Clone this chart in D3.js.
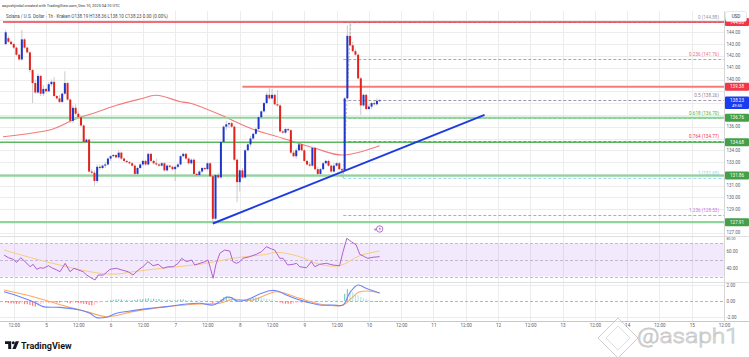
<!DOCTYPE html>
<html><head><meta charset="utf-8">
<script src="https://cdn.jsdelivr.net/npm/d3@7"></script>
<style>html,body{margin:0;padding:0;background:#fff;} svg{display:block;font-family:Roboto,"Liberation Sans",Arial,sans-serif;}</style>
</head><body><svg id="c" width="749" height="357"></svg>
<script>
// ---------- DATA ----------
const baseTime = Date.UTC(2025, 11, 5, 0, 0); // hour 0 = 5 Dec 2025 00:00 UTC
const firstCandleHour = -15;
const opens = [
143.0,143.5,143.2,143.0,142.7,142.1,141.7,143.4,142.7,142.3,
140.8,139.7,138.9,140.3,138.8,139.2,139.0,139.6,139.8,138.6,
138.4,138.1,138.8,139.7,138.3,136.5,137.6,137.1,136.8,136.1,
134.7,134.9,132.2,132.1,131.4,132.6,132.5,132.7,132.8,133.3,
133.5,133.6,133.4,133.8,133.3,133.1,133.0,132.9,132.7,132.0,
132.5,132.8,133.1,132.8,133.7,133.1,132.9,132.8,132.7,132.9,
132.3,132.7,132.6,132.4,132.6,132.8,133.5,133.7,133.3,132.9,
133.2,132.0,131.9,132.2,132.5,132.4,132.9,131.8,128.2,131.9,
131.7,134.7,136.0,136.2,136.3,136.0,133.2,131.3,132.3,131.7,
134.0,134.5,135.0,135.4,135.8,136.8,137.3,138.0,138.7,138.4,
138.7,137.9,137.8,135.6,135.5,135.8,135.7,133.8,133.5,134.0,
134.5,134.0,133.1,132.8,132.7,134.2,132.4,132.0,132.4,132.9,
133.1,132.7,132.2,132.7,132.9,132.4,132.3,138.4,143.7,142.9,
142.4,142.1,140.1,137.8,138.7,137.5,137.7,138.0,137.9,138.19];
const highs = [
144.2,143.7,143.3,143.1,142.8,142.2,144.2,143.5,142.8,142.4,
140.9,140.0,140.5,140.4,139.5,139.3,139.8,140.0,140.2,138.7,
138.7,138.9,140.7,139.8,138.4,137.8,137.9,137.3,137.0,136.2,
135.0,135.0,132.4,132.3,132.8,132.8,132.8,133.0,133.4,133.6,
133.7,133.7,134.0,133.9,133.4,133.2,133.1,133.0,132.8,132.6,
132.9,133.2,133.2,133.8,133.8,133.2,133.3,132.9,133.0,133.0,
132.8,132.8,132.7,132.7,132.9,133.6,133.8,133.8,133.4,133.3,
133.3,132.1,132.3,132.6,132.6,133.0,133.0,131.9,132.0,132.1,
134.8,136.1,136.5,136.4,136.4,136.1,133.3,132.4,132.5,134.1,
134.6,135.2,135.5,135.9,136.9,137.4,138.1,138.9,139.3,139.2,
138.8,139.1,137.9,135.7,135.9,135.9,135.8,134.0,134.2,134.6,
134.6,134.1,133.2,133.0,134.3,134.3,132.6,132.5,133.0,133.2,
133.2,132.8,132.9,133.0,133.0,132.5,138.5,144.6,144.88,143.2,
142.6,142.2,140.2,138.8,138.8,137.9,138.1,138.2,138.4,138.36];
const lows = [
142.9,143.1,142.9,142.6,142.0,141.6,141.6,142.6,142.2,140.6,
138.0,138.8,138.8,138.6,138.6,138.9,138.9,139.4,138.5,138.3,
138.0,138.0,138.7,138.2,136.3,136.3,137.0,136.7,136.0,134.6,
134.6,132.1,132.0,131.0,131.2,132.3,132.4,132.5,132.7,133.1,
133.4,133.3,133.3,133.2,133.0,132.9,132.8,132.6,131.9,131.9,
132.4,132.7,132.7,132.7,133.0,132.8,132.7,132.6,132.6,132.2,
132.2,132.5,132.3,131.4,132.5,132.7,133.4,133.2,132.8,132.8,
131.9,131.8,131.8,132.1,132.3,132.3,131.7,128.0,128.1,131.6,
131.6,134.6,135.7,135.9,135.9,133.1,129.6,130.5,131.6,131.6,
133.9,134.3,134.9,135.3,135.7,136.7,137.2,137.9,138.3,138.3,
137.8,137.7,135.5,135.4,135.4,135.6,133.7,133.4,133.3,133.9,
133.9,133.0,132.7,132.6,132.6,132.3,131.9,131.9,132.3,132.8,
132.6,132.1,132.1,132.6,132.3,131.7,132.2,138.3,142.8,142.3,
142.0,140.0,137.0,137.7,137.4,137.4,137.5,137.8,137.8,138.10];
const closes = [
144.0,143.2,143.0,142.7,142.1,141.7,143.4,142.7,142.3,140.8,
139.7,138.9,140.3,138.8,139.2,139.0,139.6,139.8,138.6,138.4,
138.1,138.8,139.7,138.3,136.5,137.6,137.1,136.8,136.1,134.7,
134.9,132.2,132.1,131.4,132.6,132.5,132.7,132.8,133.3,133.5,
133.6,133.4,133.8,133.3,133.1,133.0,132.9,132.7,132.0,132.5,
132.8,133.1,132.8,133.7,133.1,132.9,132.8,132.7,132.9,132.3,
132.7,132.6,132.4,132.6,132.8,133.5,133.7,133.3,132.9,133.2,
132.0,131.9,132.2,132.5,132.4,132.9,131.8,128.2,131.9,131.7,
134.7,136.0,136.2,136.3,136.0,133.2,131.3,132.3,131.7,134.0,
134.5,135.0,135.4,135.8,136.8,137.3,138.0,138.7,138.4,138.7,
137.9,137.8,135.6,135.5,135.8,135.7,133.8,133.5,134.0,134.5,
134.0,133.1,132.8,132.7,134.2,132.4,132.0,132.4,132.9,133.1,
132.7,132.2,132.7,132.9,132.4,132.3,138.4,143.7,142.9,142.4,
142.1,140.1,137.8,138.7,137.5,137.7,138.0,137.9,138.19,138.23];

// moving average on price pane (read points)
const maHours  = [-16, 2.6, 10, 19, 26.5, 35, 41, 50, 54, 65, 76, 88, 100, 110, 124];
const maValues = [135.15,135.81,136.57,137.25,137.84,138.35,138.66,138.12,137.97,136.99,135.86,135.02,134.17,133.60,134.39];

// horizontal levels
const resistanceLevels = [144.88, 139.38];
const resistanceStartHours = [-16, 73];
const supportLevels = [136.76, 134.68, 131.86, 127.91];
const lastPrice = 138.23;
const countdown = "49:50";
const fibRatios = ["0", "0.236", "0.5", "0.618", "0.764", "1", "1.236"];
const fibPrices = [144.88, 141.76, 138.26, 136.70, 134.77, 131.65, 128.53];
const fibStartHour = 110.5;
const trendHours = [62, 163];
const trendPrices = [127.8, 137.0];
const priceTicks = [127,128,129,130,131,132,133,134,135,136,137,138,139,140,141,142,143,144];

// RSI
const rsiHours = [-15.6,-14,-12.2,-10.9,-9.4,-7.8,-5.9,-4.8,-3.5,-2.2,-1,0.9,2.1,4,5.2,7.1,8.9,10.4,12,13.8,15.1,17,18.2,19.4,21.3,23.8,26.2,28.1,30.5,32.3,34.3,36,37.9,39.8,41.7,43.5,45.4,47.3,49.1,50.4,52.2,54.1,55.3,57.2,59,60.2,61.1,62.1,63.1,64.6,66.4,68.3,69.5,70.8,72,73.2,75.7,78.2,80.1,81.9,83.8,85,86.9,88.1,89.8,91.8,93.1,94.3,96.8,98.6,99.9,101.7,104.2,106.6,109.1,110.4,111.8,113.5,115.3,116.6,118.4,119.6,121.5,124];
const rsiValues = [56.0,52.8,50.8,47.2,52.8,48.0,41.9,44.8,38.8,40.7,40.0,43.1,40.7,38.0,35.9,46.0,35.9,40.0,38.0,35.9,31.9,28.0,25.9,31.9,31.9,38.8,40.0,38.0,35.9,31.9,38.0,41.9,48.0,43.1,44.8,40.0,41.9,41.9,46.0,52.0,48.0,50.0,44.0,46.0,48.0,50.0,40.0,28.0,44.0,58.1,62.0,60.8,48.0,46.0,48.0,52.0,54.0,56.9,60.0,66.0,63.3,62.0,52.0,52.0,44.0,44.8,46.0,41.9,40.7,48.0,41.9,44.8,46.0,44.0,43.1,60.0,76.1,72.0,68.1,56.9,54.0,52.0,53.3,54.0];
const rsiMaHours = [-15.6,-4.7,7.7,20,26.4,32.4,44.8,57.2,69.4,81.9,85.7,94.3,101.7,109.1,116.6,124];
const rsiMaValues = [62.0,52.0,41.9,34.0,33.1,35.9,40.7,44.8,52.0,56.9,59.3,54.0,44.8,43.1,55.2,60.8];
const rsiTicks = [80, 60, 40];

// MACD
const macdHours = [-15.6,-9.7,-4.8,-1.1,5.2,12.6,16.3,18.8,22.5,26.2,32.3,38.6,44.8,52.2,57.2,62.1,64.6,67.1,68.9,70.8,74.5,79.4,83.1,85.6,89.3,94.3,101.7,106.6,110.4,112.8,115.9,119,124];
const macdValues = [1.16,0.54,-0.08,-0.7,-0.8,-1.12,-1.54,-2.08,-2.04,-1.54,-1.2,-0.92,-0.7,-0.37,-0.29,-0.5,-0.08,0.46,0.42,0.04,0.12,0.87,1.29,1.29,0.75,0.12,-0.5,-0.5,-0.5,0.96,2.0,1.58,0.96];
const signalHours = [-15.6,-4.8,7.7,15.1,22.5,32.3,44.8,57.2,64.6,69.5,76.8,85.6,94.3,101.7,110.4,116.6,124];
const signalValues = [1.37,0.54,-0.7,-1.33,-1.96,-1.33,-0.7,-0.37,-0.29,0.21,0.12,1.16,0.33,-0.37,-0.5,1.16,1.04];
const histValues = [
-0.2,-0.25,-0.3,-0.3,-0.35,-0.35,-0.3,-0.4,-0.4,-0.5,
-0.6,-0.7,-0.6,-0.4,-0.3,-0.2,-0.2,-0.15,-0.15,-0.2,
-0.2,-0.1,-0.1,-0.2,-0.3,-0.2,-0.2,-0.25,-0.3,-0.35,
-0.4,-0.5,-0.55,-0.5,-0.3,-0.2,-0.1,-0.05,0.05,0.1,
0.15,0.2,0.2,0.2,0.15,0.15,0.1,0.1,0.15,0.2,
0.2,0.25,0.3,0.35,0.3,0.3,0.25,0.25,0.2,0.15,
0.15,0.15,0.1,0.1,0.15,0.2,0.2,0.15,0.1,0.1,
0.05,0.05,0.05,0.05,0.05,0.05,-0.1,-0.3,-0.1,-0.1,
0.2,0.45,0.6,0.55,0.35,0.1,-0.1,-0.1,0.05,0.2,
0.3,0.35,0.4,0.45,0.45,0.4,0.35,0.3,0.25,0.2,
0.1,-0.05,-0.2,-0.3,-0.35,-0.35,-0.35,-0.3,-0.25,-0.2,
-0.2,-0.15,-0.15,-0.1,-0.05,-0.1,-0.1,-0.05,0.0,0.05,
0.05,0.0,0.05,0.05,0.0,0.0,0.9,1.5,1.3,1.1,
0.9,0.7,0.5,0.35,0.25,0.15,0.05,-0.05,-0.1,-0.1];
const macdTicks = [2, 0, -2];

const headerLine1 = "aayushjindal created with TradingView.com, Dec 10, 2025 04:10 UTC";
const headerLine2 = "Solana / U.S. Dollar · 1h · Kraken   O138.19  H138.36  L138.10  C138.23  0.00 (0.00%)";

// ---------- DRAW ----------
const hr = h => new Date(baseTime + h * 3600e3);
const svg = d3.select("#c");
const plotL = 3, plotR = 724;
const mainTop = 11, mainBot = 236, rsiTop = 237, rsiBot = 282, macdTop = 283, macdBot = 321;

const x = d3.scaleUtc().domain([hr(-16), hr(252)]).range([plotL, plotR]);
const y = d3.scaleLinear().domain([127, 144]).range([232.9, 32.3]);
const yR = d3.scaleLinear().domain([30, 70]).range([276.6, 243.4]);
const yM = d3.scaleLinear().domain([-2, 2]).range([317, 285]);

const defs = svg.append("defs");
[["clipMain", mainTop, mainBot], ["clipRsi", rsiTop, rsiBot], ["clipMacd", macdTop, macdBot]].forEach(([id, t, b]) => {
  defs.append("clipPath").attr("id", id).append("rect").attr("x", 0).attr("y", t).attr("width", plotR).attr("height", b - t);
});

svg.append("rect").attr("width", 749).attr("height", 357).attr("fill", "#fff");

const px = v => Math.round(v) + 0.5;
const gridColor = "#ececec";

// vertical grid
const gridTimes = d3.utcHour.every(12).range(hr(-12), hr(253));
svg.append("g").selectAll("line").data(gridTimes).join("line")
  .attr("x1", d => px(x(d))).attr("x2", d => px(x(d)))
  .attr("y1", mainTop).attr("y2", macdBot).attr("stroke", gridColor).attr("stroke-width", 1);

// horizontal grid main
const gMain = svg.append("g").attr("clip-path", "url(#clipMain)");
gMain.selectAll("line.hg").data(priceTicks.concat([145])).join("line")
  .attr("x1", 0).attr("x2", plotR).attr("y1", d => px(y(d))).attr("y2", d => px(y(d)))
  .attr("stroke", gridColor);

// MA
gMain.append("path").datum(maHours.map((h, i) => [h, maValues[i]]))
  .attr("fill", "none").attr("stroke", "#f26d6d").attr("stroke-width", 1.1).attr("opacity", 0.9)
  .attr("d", d3.line().x(d => x(hr(d[0]))).y(d => y(d[1])).curve(d3.curveCatmullRom));

// fib lines
const fibColors = ["#9598a1", "#f26d7d", "#8a7f9e", "#4caf50", "#f23645", "#90caf9", "#c27ad8"];
fibPrices.forEach((p, i) => {
  gMain.append("line").attr("x1", x(hr(fibStartHour))).attr("x2", plotR)
    .attr("y1", px(y(p))).attr("y2", px(y(p)))
    .attr("stroke", fibColors[i]).attr("stroke-width", 1).attr("stroke-dasharray", "3,2").attr("opacity", 0.8);
  gMain.append("text").attr("x", 719).attr("y", y(p) - 3).attr("text-anchor", "end")
    .attr("font-size", 4.6).attr("fill", fibColors[i])
    .text(`${fibRatios[i]} (${p.toFixed(2)})`);
});
// fib anchor trend (dashed)
gMain.append("line").attr("x1", x(hr(fibStartHour))).attr("x2", x(hr(113.3)))
  .attr("y1", y(fibPrices[5])).attr("y2", y(fibPrices[0]))
  .attr("stroke", "#9e9e9e").attr("stroke-dasharray", "2,2").attr("stroke-width", 0.7);

// support levels (green)
const supportWidths = [2.2, 1.4, 2.2, 2.2];
const supportColors = ["#8fd49b", "#5cb860", "#8fd49b", "#8fd49b"];
supportLevels.forEach((p, i) => {
  gMain.append("line").attr("x1", 0).attr("x2", plotR).attr("y1", y(p)).attr("y2", y(p))
    .attr("stroke", supportColors[i]).attr("stroke-width", supportWidths[i]);
});
// resistance levels (red)
const resColors = ["#ee3a48", "#f77b7b"];
const resWidths = [1.5, 2];
resistanceLevels.forEach((p, i) => {
  gMain.append("line").attr("x1", x(hr(resistanceStartHours[i]))).attr("x2", plotR).attr("y1", y(p)).attr("y2", y(p))
    .attr("stroke", resColors[i]).attr("stroke-width", resWidths[i]);
});

// candles
const candles = opens.map((o, i) => ({ t: hr(firstCandleHour + i), o, h: highs[i], l: lows[i], c: closes[i] }));
const upColor = "#1f35cc", downColor = "#e2231d";
const gc = gMain.append("g");
gc.selectAll("line.w").data(candles).join("line")
  .attr("x1", d => x(d.t)).attr("x2", d => x(d.t))
  .attr("y1", d => y(d.h)).attr("y2", d => y(d.l))
  .attr("stroke", "#b5b5b5").attr("stroke-width", 0.7);
gc.selectAll("rect.b").data(candles).join("rect")
  .attr("x", d => x(d.t) - 1).attr("width", 2)
  .attr("y", d => y(Math.max(d.o, d.c)))
  .attr("height", d => Math.max(0.8, Math.abs(y(d.o) - y(d.c))))
  .attr("fill", d => d.c >= d.o ? upColor : downColor);

// trendline
gMain.append("line")
  .attr("x1", x(hr(trendHours[0]))).attr("y1", y(trendPrices[0]))
  .attr("x2", x(hr(trendHours[1]))).attr("y2", y(trendPrices[1]))
  .attr("stroke", "#1e3be0").attr("stroke-width", 2);

// ---------- RSI pane ----------
const gRsi = svg.append("g").attr("clip-path", "url(#clipRsi)");
gRsi.append("rect").attr("x", 0).attr("width", plotR).attr("y", yR(70)).attr("height", yR(30) - yR(70))
  .attr("fill", "rgba(149,76,233,0.12)");
[70, 50, 30].forEach(v => {
  gRsi.append("line").attr("x1", 0).attr("x2", plotR).attr("y1", px(yR(v))).attr("y2", px(yR(v)))
    .attr("stroke", "#b8a9cc").attr("stroke-dasharray", "3,2").attr("stroke-width", 0.8);
});
gRsi.append("path").datum(rsiMaHours.map((h, i) => [h, rsiMaValues[i]]))
  .attr("fill", "none").attr("stroke", "#f8cd7a").attr("stroke-width", 1)
  .attr("d", d3.line().x(d => x(hr(d[0]))).y(d => yR(d[1])).curve(d3.curveCatmullRom));
gRsi.append("path").datum(rsiHours.map((h, i) => [h, rsiValues[i]]))
  .attr("fill", "none").attr("stroke", "#b160d0").attr("stroke-width", 1)
  .attr("d", d3.line().x(d => x(hr(d[0]))).y(d => yR(d[1])));

// ---------- MACD pane ----------
const gMacd = svg.append("g").attr("clip-path", "url(#clipMacd)");
[2, -2].forEach(v => gMacd.append("line").attr("x1", 0).attr("x2", plotR).attr("y1", px(yM(v))).attr("y2", px(yM(v))).attr("stroke", gridColor));
gMacd.append("line").attr("x1", 0).attr("x2", plotR).attr("y1", px(yM(0))).attr("y2", px(yM(0)))
  .attr("stroke", "#9a9a9a").attr("stroke-dasharray", "3,2").attr("stroke-width", 0.7);
const histData = histValues.map((v, i) => ({ t: hr(firstCandleHour + i), v, prev: i ? histValues[i - 1] : 0 }));
gMacd.selectAll("rect.h").data(histData).join("rect")
  .attr("x", d => x(d.t) - 0.6).attr("width", 1.2)
  .attr("y", d => Math.min(yM(0), yM(d.v)))
  .attr("height", d => Math.abs(yM(d.v) - yM(0)))
  .attr("fill", d => d.v >= 0 ? (d.v >= d.prev ? "#7fcac1" : "#bfe4df") : (d.v <= d.prev ? "#ff7b7b" : "#ffc9cd"));
gMacd.append("path").datum(signalHours.map((h, i) => [h, signalValues[i]]))
  .attr("fill", "none").attr("stroke", "#ffa860").attr("stroke-width", 1.1)
  .attr("d", d3.line().x(d => x(hr(d[0]))).y(d => yM(d[1])).curve(d3.curveCatmullRom));
gMacd.append("path").datum(macdHours.map((h, i) => [h, macdValues[i]]))
  .attr("fill", "none").attr("stroke", "#6b85ff").attr("stroke-width", 1.1)
  .attr("d", d3.line().x(d => x(hr(d[0]))).y(d => yM(d[1])).curve(d3.curveCatmullRom));

// pane separators / axes
[rsiTop - 0.5, macdTop - 0.5].forEach(yy => svg.append("line").attr("x1", 0).attr("x2", 749).attr("y1", yy).attr("y2", yy).attr("stroke", "#e0e0e0"));
svg.append("line").attr("x1", 0).attr("x2", 749).attr("y1", macdBot + 0.5).attr("y2", macdBot + 0.5).attr("stroke", "#c8c8c8");
svg.append("line").attr("x1", plotR + 0.5).attr("x2", plotR + 0.5).attr("y1", mainTop).attr("y2", macdBot).attr("stroke", "#d6d6d6");

// watermark (drawn before axis text so labels stay readable)
const wm = svg.append("g").attr("opacity", 0.85);
wm.append("polygon").attr("points", "618,318 638,338 618,358 598,338")
  .attr("fill", "rgba(255,255,255,0.5)").attr("stroke", "#c7c7c7").attr("stroke-width", 1);
wm.append("polygon").attr("points", "618,326 630,338 618,350 606,338")
  .attr("fill", "none").attr("stroke", "#d2d2d2").attr("stroke-width", 0.8);
wm.append("text").attr("x", 637).attr("y", 343).attr("font-size", 21).attr("font-weight", 300)
  .attr("textLength", 102).attr("lengthAdjust", "spacingAndGlyphs")
  .attr("fill", "rgba(255,255,255,0.55)").attr("stroke", "#bdbdbd").attr("stroke-width", 0.8).text("@asaph1");

// x axis labels
const axisColor = "#5d606b";
const xAxis = d3.axisBottom(x).tickValues(gridTimes).tickSize(0).tickPadding(2)
  .tickFormat(d => d.getUTCHours() === 12 ? "12:00" : String(d.getUTCDate()));
const gx = svg.append("g").attr("transform", `translate(0,${macdBot + 1})`).call(xAxis);
gx.select(".domain").remove();
gx.selectAll("text").attr("font-size", 4.6).attr("fill", axisColor).attr("font-family", "Roboto, sans-serif");

// tags
const tagDefs = [
  { v: resistanceLevels[0], fill: "#f23645" },
  { v: resistanceLevels[1], fill: "#f23645" },
  { v: lastPrice, fill: "#1a3cf0", sub: countdown },
  ...supportLevels.map(v => ({ v, fill: "#43a047" }))
];
// price labels (skip those under tags)
const tagYs = tagDefs.map(t => y(t.v));
priceTicks.filter(p => tagYs.every(ty => Math.abs(ty - y(p)) > 7)).forEach(p => {
  svg.append("text").attr("x", 726.5).attr("y", y(p) + 1.4).attr("font-size", 4.5).attr("fill", axisColor).text(p.toFixed(2));
});
tagDefs.forEach(t => {
  const ty = y(t.v);
  svg.append("rect").attr("x", 725).attr("y", ty - 4).attr("width", 24).attr("height", t.sub ? 12.5 : 8)
    .attr("fill", t.fill).attr("rx", 1);
  svg.append("text").attr("x", 737).attr("y", ty + 1.6).attr("text-anchor", "middle").attr("font-size", 4.5)
    .attr("fill", "#fff").text(t.v.toFixed(2));
  if (t.sub) svg.append("text").attr("x", 737).attr("y", ty + 6.9).attr("text-anchor", "middle").attr("font-size", 4)
    .attr("fill", "#fff").text(t.sub);
});
// USD box
svg.append("rect").attr("x", 725.5).attr("y", 11.5).attr("width", 21).attr("height", 10).attr("rx", 2)
  .attr("fill", "#fff").attr("stroke", "#d8d8d8").attr("stroke-width", 0.6);
svg.append("text").attr("x", 736).attr("y", 18).attr("text-anchor", "middle").attr("font-size", 4.6).attr("fill", "#333").text("USD");

// RSI and MACD axis labels (top RSI label sits just inside the pane)
rsiTicks.forEach(v => {
  const ty = Math.max(yR(v) + 1.6, rsiTop + 3.4);
  svg.append("text").attr("x", 726.5).attr("y", ty).attr("font-size", v === 80 ? 3.6 : 4.5).attr("fill", axisColor).text(v.toFixed(2));
});
macdTicks.forEach(v => svg.append("text").attr("x", 726.5).attr("y", yM(v) + 1.6).attr("font-size", 4.5).attr("fill", axisColor).text(v.toFixed(2)));

// small indicator icon
svg.append("circle").attr("cx", x(hr(124))).attr("cy", 229).attr("r", 3.2).attr("fill", "#fff").attr("stroke", "#9c4fc2").attr("stroke-width", 0.8);
svg.append("path").attr("d", `M${x(hr(124)) + 0.6},226.6 l-1.6,2.6 h1.4 l-0.8,2.2 l1.8,-2.8 h-1.4 z`).attr("fill", "#9c4fc2");
svg.append("text").attr("x", x(hr(124)) - 6).attr("y", 230.5).attr("font-size", 4.5).attr("fill", "#2962ff").text("+");

// header
svg.append("text").attr("x", 2).attr("y", 6.5).attr("font-size", 3.9).attr("fill", "#333").text(headerLine1);
svg.append("text").attr("x", 6).attr("y", 17.5).attr("font-size", 4.5).attr("fill", "#4a4a4a").text(headerLine2);

// TradingView logo
const logo = svg.append("g").attr("fill", "#131722");
logo.append("path").attr("d", "M5,341.2 h6.2 v7.8 h-3 v-5 h-3.2 z");
logo.append("circle").attr("cx", 13.3).attr("cy", 342.7).attr("r", 1.5);
logo.append("path").attr("d", "M15.6,341.2 h3.4 l-3.3,7.8 h-3.3 z");
svg.append("text").attr("x", 21).attr("y", 348.6).attr("font-size", 9).attr("font-weight", "bold")
  .attr("fill", "#131722").text("TradingView");
</script></body></html>
